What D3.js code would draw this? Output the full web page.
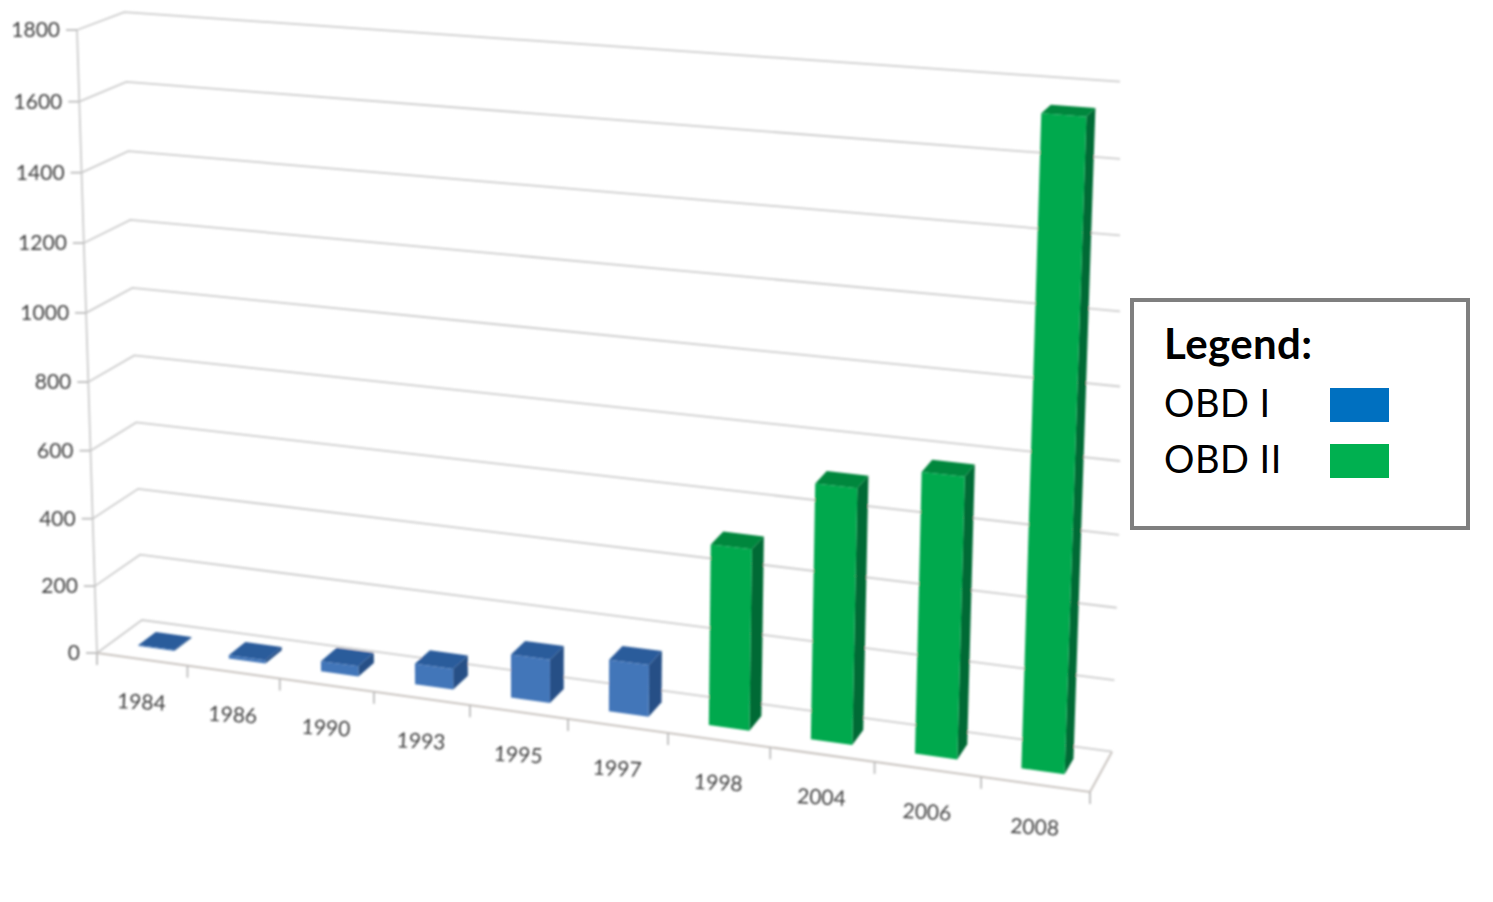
<!DOCTYPE html>
<meta charset="utf-8">
<style>
  body { margin: 0; background: #fff; }
  text { font-family: Lato, "Open Sans", sans-serif; }
</style>

<!-- Load d3.js -->
<script src="https://d3js.org/d3.v7.min.js"></script>

<div id="my_dataviz"></div>

<script>

// chart data
var years = ["1984", "1986", "1990", "1993", "1995", "1997", "1998", "2004", "2006", "2008"];
var obd1Years = ["1984", "1986", "1990", "1993", "1995", "1997"];
var obd1Values = [3, 10, 30, 60, 125, 148];
var obd2Years = ["1998", "2004", "2006", "2008"];
var obd2Values = [510, 712, 775, 1745];
var valueTicks = [0, 200, 400, 600, 800, 1000, 1200, 1400, 1600, 1800];
var legendLabels = ["OBD I", "OBD II"];

var width = 1493, height = 902;

var svg = d3.select("#my_dataviz")
    .append("svg")
    .attr("width", width)
    .attr("height", height);

// the source is a soft, scanned image
svg.append("filter").attr("id", "soft")
    .append("feGaussianBlur").attr("stdDeviation", 1);

// the walls stop a bit short of the perspective corner
svg.append("clipPath").attr("id", "wall")
    .append("rect").attr("x", 0).attr("y", 0).attr("width", 1120).attr("height", height);

var chart = svg.append("g").attr("filter", "url(#soft)");

// scales into the unit box (across, depth, up)
var x = d3.scaleBand().domain(years).range([0, 1]).paddingInner(0.6).paddingOuter(0.3);
var xTick = d3.scaleLinear().domain([0, years.length]).range([0, 1]);
var y = d3.scaleLinear().domain([0, 1800]).range([0, 1]);
var depth = [0.32, 0.71];

// perspective of the 3d box: origin, the three far corners, and how much each axis foreshortens
var origin = [97, 653], cornerX = [1090, 792], cornerD = [142, 620], cornerY = [77, 30];
var persX = -0.0977, persD = 0.0259, persY = -0.038;
var barLean = 2.5; // columns lean right a little more than the walls do

function project(u, d, v) {
    var w = 1 + persX * u + persD * d + persY * v;
    return [0, 1].map(function(k) {
        var ax = (1 + persX) * cornerX[k] - origin[k],
            ad = (1 + persD) * cornerD[k] - origin[k],
            ay = (1 + persY) * cornerY[k] - origin[k];
        return (origin[k] + u * ax + d * ad + v * ay) / w;
    });
}

function barPoint(u, d, v) {
    var p = project(u, d, v);
    return [p[0] + barLean * v, p[1]];
}

var line = d3.line();

// gridlines: side wall then back wall
chart.append("g")
    .attr("clip-path", "url(#wall)")
    .selectAll("path")
    .data(valueTicks)
    .enter().append("path")
        .attr("d", function(t) {
            return line([project(0, 0, y(t)), project(0, 1, y(t)), project(1, 1, y(t))]);
        })
        .attr("fill", "none")
        .attr("stroke", "#cdcdcd")
        .attr("stroke-width", 1.8);

// vertical axis line and its ticks
chart.append("path")
    .attr("d", line([project(0, 0, 0), project(0, 0, 1)]))
    .attr("stroke", "#cdcdcd")
    .attr("stroke-width", 1.8);

chart.append("g").selectAll("path")
    .data(valueTicks)
    .enter().append("path")
        .attr("d", function(t) {
            var p = project(0, 0, y(t));
            return line([[p[0] - 11, p[1]], p]);
        })
        .attr("stroke", "#bdbdbd")
        .attr("stroke-width", 1.8);

chart.append("g").selectAll("text")
    .data(valueTicks)
    .enter().append("text")
        .attr("x", function(t) { return project(0, 0, y(t))[0] - 17; })
        .attr("y", function(t) { return project(0, 0, y(t))[1] + 7; })
        .attr("text-anchor", "end")
        .attr("font-size", 21)
        .attr("fill", "#3f3f3f")
        .text(function(t) { return t; });

// floor edges
chart.append("path")
    .attr("d", line([project(0, 0, 0), project(1, 0, 0), project(1, 1, 0)]))
    .attr("fill", "none")
    .attr("stroke", "#c9c4c0")
    .attr("stroke-width", 2);

chart.append("g").selectAll("path")
    .data(d3.range(years.length + 1))
    .enter().append("path")
        .attr("d", function(i) {
            var p = project(xTick(i), 0, 0);
            return line([p, [p[0], p[1] + 12]]);
        })
        .attr("stroke", "#bdbdbd")
        .attr("stroke-width", 1.8);

// year labels
chart.append("g").selectAll("text")
    .data(years)
    .enter().append("text")
        .attr("transform", function(d) {
            var p = project(x(d) + x.bandwidth() / 2, 0, 0);
            return "translate(" + (p[0] - 1) + "," + (p[1] + 50) + ")rotate(3)";
        })
        .attr("text-anchor", "middle")
        .attr("font-size", 21)
        .attr("fill", "#3f3f3f")
        .text(function(d) { return d; });

// one 3d column: side, top and front faces
function drawBars(names, values, front, top, side) {
    var data = names.map(function(d, i) { return {year: d, value: values[i]}; });
    var bars = chart.append("g").selectAll("g")
        .data(data)
        .enter().append("g");

    function corners(d) {
        var u0 = x(d.year), u1 = u0 + x.bandwidth(), v = y(d.value);
        return {u0: u0, u1: u1, v: v, d0: depth[0], d1: depth[1]};
    }
    bars.append("path")
        .attr("fill", side)
        .attr("d", function(d) {
            var c = corners(d);
            return line([barPoint(c.u1, c.d0, 0), barPoint(c.u1, c.d1, 0), barPoint(c.u1, c.d1, c.v), barPoint(c.u1, c.d0, c.v)]) + "Z";
        });
    bars.append("path")
        .attr("fill", top)
        .attr("d", function(d) {
            var c = corners(d);
            return line([barPoint(c.u0, c.d0, c.v), barPoint(c.u1, c.d0, c.v), barPoint(c.u1, c.d1, c.v), barPoint(c.u0, c.d1, c.v)]) + "Z";
        });
    bars.append("path")
        .attr("fill", front)
        .attr("d", function(d) {
            var c = corners(d);
            return line([barPoint(c.u0, c.d0, 0), barPoint(c.u1, c.d0, 0), barPoint(c.u1, c.d0, c.v), barPoint(c.u0, c.d0, c.v)]) + "Z";
        });
}

drawBars(obd1Years, obd1Values, "#4276b9", "#2c5c9b", "#264f86");
drawBars(obd2Years, obd2Values, "#05a94e", "#06873d", "#046b36");

// legend box
var legend = svg.append("g");
legend.append("rect")
    .attr("x", 1132).attr("y", 300)
    .attr("width", 336).attr("height", 228)
    .attr("fill", "#fff")
    .attr("stroke", "#7f7f7f")
    .attr("stroke-width", 4);

legend.append("text")
    .attr("x", 1164).attr("y", 359)
    .attr("font-size", 42)
    .attr("font-weight", 700)
    .attr("letter-spacing", 0.4)
    .attr("fill", "#000")
    .text("Legend:");

var legendColor = d3.scaleOrdinal().domain(legendLabels).range(["#0070c0", "#00b050"]);
var legendY = d3.scaleOrdinal().domain(legendLabels).range([417, 473]);

legend.selectAll(".lbl")
    .data(legendLabels)
    .enter().append("text")
        .attr("class", "lbl")
        .attr("x", 1164)
        .attr("y", function(d) { return legendY(d); })
        .attr("font-size", 38)
        .attr("letter-spacing", 0.5)
        .attr("fill", "#000")
        .text(function(d) { return d; });

legend.selectAll("rect.swatch")
    .data(legendLabels)
    .enter().append("rect")
        .attr("class", "swatch")
        .attr("x", 1330)
        .attr("y", function(d) { return legendY(d) - 29; })
        .attr("width", 59)
        .attr("height", 34)
        .attr("fill", function(d) { return legendColor(d); });

</script>
